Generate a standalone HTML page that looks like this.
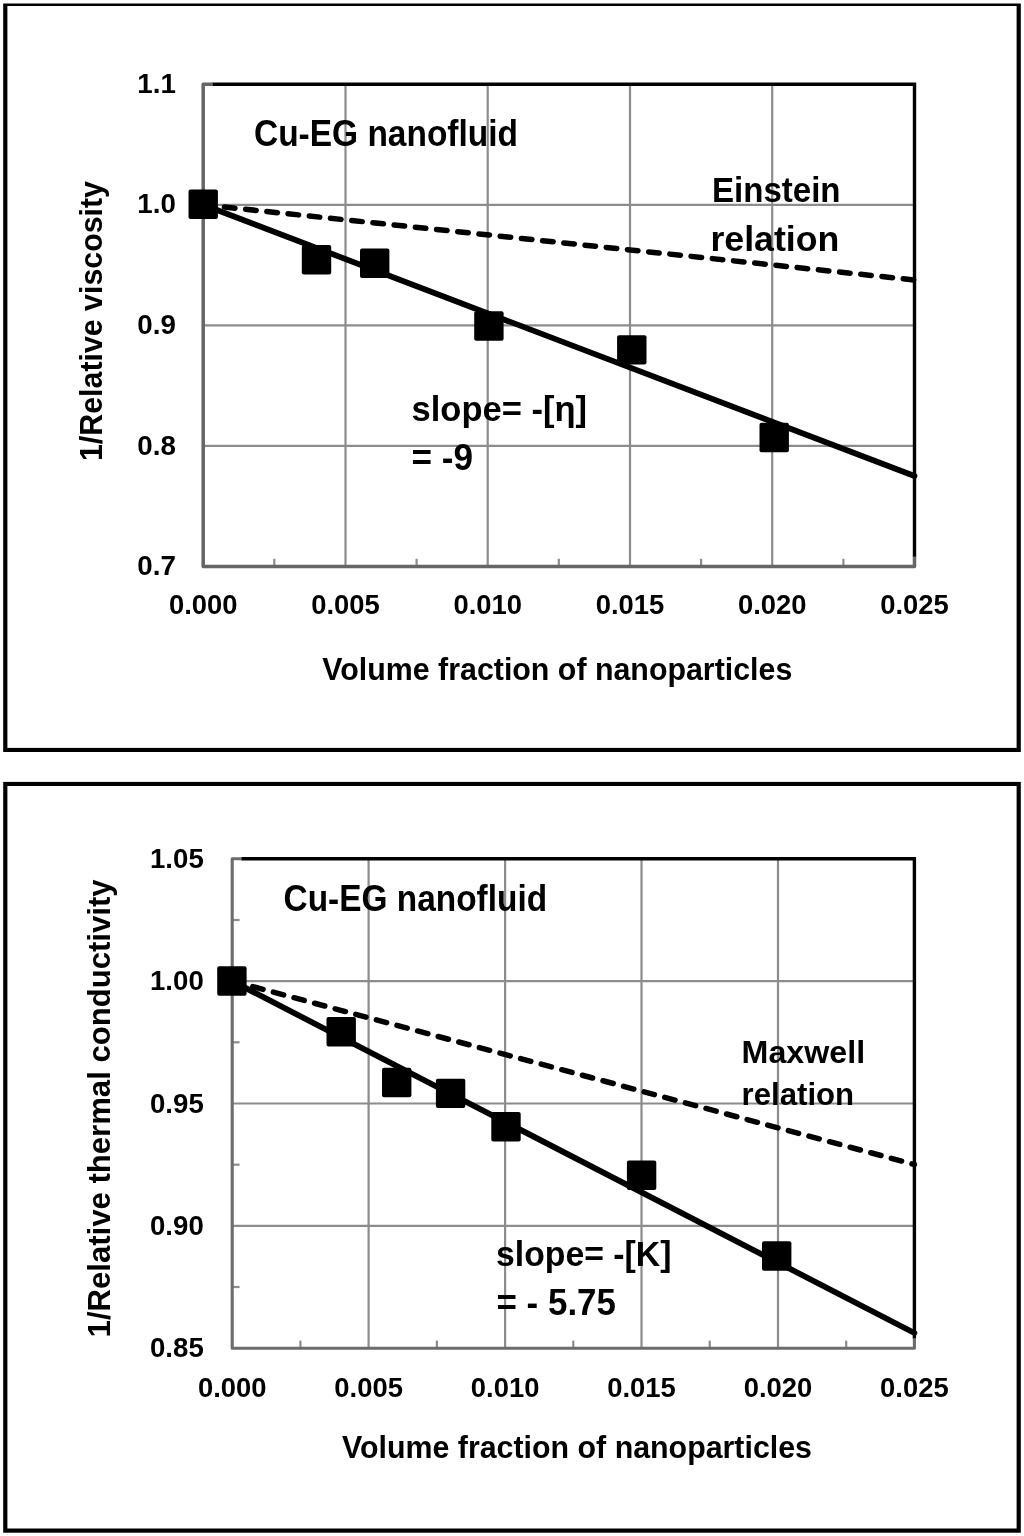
<!DOCTYPE html>
<html lang="en"><head><meta charset="utf-8"><title>Cu-EG nanofluid</title>
<style>html,body{margin:0;padding:0;background:#fff}svg{display:block}text{font-family:'Liberation Sans', 'DejaVu Sans', sans-serif;font-weight:700;fill:#000}</style>
</head><body>
<svg width="1024" height="1536" viewBox="0 0 1024 1536">
<rect width="1024" height="1536" fill="#fff"/>
<rect x="3.2" y="3.5" width="1017.6" height="748.5" fill="#000"/>
<rect x="7.4" y="6.0" width="1009.2" height="741.9" fill="#fff"/>
<line x1="345.5" y1="84.2" x2="345.5" y2="566.4" stroke="#8c8c8c" stroke-width="2.2"/>
<line x1="487.7" y1="84.2" x2="487.7" y2="566.4" stroke="#8c8c8c" stroke-width="2.2"/>
<line x1="630.0" y1="84.2" x2="630.0" y2="566.4" stroke="#8c8c8c" stroke-width="2.2"/>
<line x1="772.2" y1="84.2" x2="772.2" y2="566.4" stroke="#8c8c8c" stroke-width="2.2"/>
<line x1="203.2" y1="204.8" x2="914.5" y2="204.8" stroke="#8c8c8c" stroke-width="2.2"/>
<line x1="203.2" y1="325.3" x2="914.5" y2="325.3" stroke="#8c8c8c" stroke-width="2.2"/>
<line x1="203.2" y1="445.8" x2="914.5" y2="445.8" stroke="#8c8c8c" stroke-width="2.2"/>
<line x1="274.3" y1="558.8" x2="274.3" y2="566.4" stroke="#8c8c8c" stroke-width="2.2"/>
<line x1="416.6" y1="558.8" x2="416.6" y2="566.4" stroke="#8c8c8c" stroke-width="2.2"/>
<line x1="558.8" y1="558.8" x2="558.8" y2="566.4" stroke="#8c8c8c" stroke-width="2.2"/>
<line x1="701.1" y1="558.8" x2="701.1" y2="566.4" stroke="#8c8c8c" stroke-width="2.2"/>
<line x1="843.4" y1="558.8" x2="843.4" y2="566.4" stroke="#8c8c8c" stroke-width="2.2"/>
<polyline points="212.2,84.2 914.5,84.2 914.5,556.9" fill="none" stroke="#000" stroke-width="3.4"/>
<polyline points="212.7,84.2 203.2,84.2 203.2,566.4 914.5,566.4 914.5,556.4" fill="none" stroke="#666666" stroke-width="3.5" stroke-linejoin="round"/>
<line x1="203.2" y1="204.8" x2="914.5" y2="280.0" stroke="#000" stroke-width="5.5" stroke-linecap="round" stroke-dasharray="10.6 10.73"/>
<line x1="203.2" y1="204.8" x2="914.5" y2="476.0" stroke="#000" stroke-width="5.8" stroke-linecap="round"/>
<rect x="188.5" y="189.5" width="29.4" height="29.4" rx="2" fill="#000"/>
<rect x="301.8" y="245.0" width="29.4" height="29.4" rx="2" fill="#000"/>
<rect x="360.0" y="248.5" width="29.4" height="29.4" rx="2" fill="#000"/>
<rect x="474.2" y="311.3" width="29.4" height="29.4" rx="2" fill="#000"/>
<rect x="617.1" y="335.2" width="29.4" height="29.4" rx="2" fill="#000"/>
<rect x="759.5" y="422.8" width="29.4" height="29.4" rx="2" fill="#000"/>
<text x="175.9" y="92.9" font-size="28.0" textLength="38.6" lengthAdjust="spacingAndGlyphs" text-anchor="end">1.1</text>
<text x="175.9" y="213.4" font-size="28.0" textLength="38.6" lengthAdjust="spacingAndGlyphs" text-anchor="end">1.0</text>
<text x="175.9" y="334.0" font-size="28.0" textLength="38.6" lengthAdjust="spacingAndGlyphs" text-anchor="end">0.9</text>
<text x="175.9" y="454.5" font-size="28.0" textLength="38.6" lengthAdjust="spacingAndGlyphs" text-anchor="end">0.8</text>
<text x="175.9" y="575.1" font-size="28.0" textLength="38.6" lengthAdjust="spacingAndGlyphs" text-anchor="end">0.7</text>
<text x="203.2" y="613.9" font-size="27.4" textLength="68.6" lengthAdjust="spacingAndGlyphs" text-anchor="middle">0.000</text>
<text x="345.5" y="613.9" font-size="27.4" textLength="68.6" lengthAdjust="spacingAndGlyphs" text-anchor="middle">0.005</text>
<text x="487.7" y="613.9" font-size="27.4" textLength="68.6" lengthAdjust="spacingAndGlyphs" text-anchor="middle">0.010</text>
<text x="630.0" y="613.9" font-size="27.4" textLength="68.6" lengthAdjust="spacingAndGlyphs" text-anchor="middle">0.015</text>
<text x="772.2" y="613.9" font-size="27.4" textLength="68.6" lengthAdjust="spacingAndGlyphs" text-anchor="middle">0.020</text>
<text x="914.5" y="613.9" font-size="27.4" textLength="68.6" lengthAdjust="spacingAndGlyphs" text-anchor="middle">0.025</text>
<text x="322.3" y="680.0" font-size="30.6" textLength="470" lengthAdjust="spacingAndGlyphs">Volume fraction of nanoparticles</text>
<text x="101.8" y="461" font-size="30.6" textLength="280" lengthAdjust="spacingAndGlyphs" transform="rotate(-90 101.8 461)">1/Relative viscosity</text>
<text x="254.0" y="146.4" font-size="36.3" textLength="264" lengthAdjust="spacingAndGlyphs">Cu-EG nanofluid</text>
<text x="712.0" y="202.2" font-size="35.0" textLength="128.5" lengthAdjust="spacingAndGlyphs">Einstein</text>
<text x="710.4" y="250.5" font-size="35.0" textLength="129" lengthAdjust="spacingAndGlyphs">relation</text>
<text x="411.5" y="421.0" font-size="34.5" textLength="175.5" lengthAdjust="spacingAndGlyphs">slope= -[η]</text>
<text x="411.5" y="470.0" font-size="36.2" textLength="61.5" lengthAdjust="spacingAndGlyphs">= -9</text>
<rect x="3.2" y="781.9" width="1017.6" height="750.8" fill="#000"/>
<rect x="7.4" y="786.0" width="1009.2" height="742.5" fill="#fff"/>
<line x1="368.6" y1="858.8" x2="368.6" y2="1348.2" stroke="#8c8c8c" stroke-width="2.2"/>
<line x1="505.1" y1="858.8" x2="505.1" y2="1348.2" stroke="#8c8c8c" stroke-width="2.2"/>
<line x1="641.5" y1="858.8" x2="641.5" y2="1348.2" stroke="#8c8c8c" stroke-width="2.2"/>
<line x1="778.0" y1="858.8" x2="778.0" y2="1348.2" stroke="#8c8c8c" stroke-width="2.2"/>
<line x1="232.2" y1="981.1" x2="914.4" y2="981.1" stroke="#8c8c8c" stroke-width="2.2"/>
<line x1="232.2" y1="1103.5" x2="914.4" y2="1103.5" stroke="#8c8c8c" stroke-width="2.2"/>
<line x1="232.2" y1="1225.8" x2="914.4" y2="1225.8" stroke="#8c8c8c" stroke-width="2.2"/>
<line x1="300.4" y1="1340.6" x2="300.4" y2="1348.2" stroke="#8c8c8c" stroke-width="2.2"/>
<line x1="436.9" y1="1340.6" x2="436.9" y2="1348.2" stroke="#8c8c8c" stroke-width="2.2"/>
<line x1="573.3" y1="1340.6" x2="573.3" y2="1348.2" stroke="#8c8c8c" stroke-width="2.2"/>
<line x1="709.7" y1="1340.6" x2="709.7" y2="1348.2" stroke="#8c8c8c" stroke-width="2.2"/>
<line x1="846.2" y1="1340.6" x2="846.2" y2="1348.2" stroke="#8c8c8c" stroke-width="2.2"/>
<line x1="232.2" y1="920.0" x2="239.6" y2="920.0" stroke="#8c8c8c" stroke-width="2.2"/>
<line x1="232.2" y1="1042.3" x2="239.6" y2="1042.3" stroke="#8c8c8c" stroke-width="2.2"/>
<line x1="232.2" y1="1164.7" x2="239.6" y2="1164.7" stroke="#8c8c8c" stroke-width="2.2"/>
<line x1="232.2" y1="1287.0" x2="239.6" y2="1287.0" stroke="#8c8c8c" stroke-width="2.2"/>
<polyline points="241.2,858.8 914.4,858.8 914.4,1338.7" fill="none" stroke="#000" stroke-width="3.4"/>
<polyline points="241.7,858.8 232.2,858.8 232.2,1348.2 914.4,1348.2 914.4,1338.2" fill="none" stroke="#6c6c6c" stroke-width="3.1" stroke-linejoin="round"/>
<line x1="232.2" y1="981.1" x2="914.4" y2="1164.5" stroke="#000" stroke-width="5.5" stroke-linecap="round" stroke-dasharray="10.6 10.73"/>
<line x1="232.2" y1="981.1" x2="914.4" y2="1333.0" stroke="#000" stroke-width="5.8" stroke-linecap="round"/>
<rect x="217.2" y="966.3" width="29.4" height="29.4" rx="2" fill="#000"/>
<rect x="326.5" y="1017.0" width="29.4" height="29.4" rx="2" fill="#000"/>
<rect x="382.0" y="1067.8" width="29.4" height="29.4" rx="2" fill="#000"/>
<rect x="435.9" y="1078.7" width="29.4" height="29.4" rx="2" fill="#000"/>
<rect x="491.3" y="1112.1" width="29.4" height="29.4" rx="2" fill="#000"/>
<rect x="626.9" y="1160.5" width="29.4" height="29.4" rx="2" fill="#000"/>
<rect x="762.0" y="1241.3" width="29.4" height="29.4" rx="2" fill="#000"/>
<text x="203.8" y="867.9" font-size="27.4" textLength="53.8" lengthAdjust="spacingAndGlyphs" text-anchor="end">1.05</text>
<text x="203.8" y="990.2" font-size="27.4" textLength="53.8" lengthAdjust="spacingAndGlyphs" text-anchor="end">1.00</text>
<text x="203.8" y="1112.6" font-size="27.4" textLength="53.8" lengthAdjust="spacingAndGlyphs" text-anchor="end">0.95</text>
<text x="203.8" y="1234.9" font-size="27.4" textLength="53.8" lengthAdjust="spacingAndGlyphs" text-anchor="end">0.90</text>
<text x="203.8" y="1357.3" font-size="27.4" textLength="53.8" lengthAdjust="spacingAndGlyphs" text-anchor="end">0.85</text>
<text x="232.2" y="1396.7" font-size="27.4" textLength="68.6" lengthAdjust="spacingAndGlyphs" text-anchor="middle">0.000</text>
<text x="368.6" y="1396.7" font-size="27.4" textLength="68.6" lengthAdjust="spacingAndGlyphs" text-anchor="middle">0.005</text>
<text x="505.1" y="1396.7" font-size="27.4" textLength="68.6" lengthAdjust="spacingAndGlyphs" text-anchor="middle">0.010</text>
<text x="641.5" y="1396.7" font-size="27.4" textLength="68.6" lengthAdjust="spacingAndGlyphs" text-anchor="middle">0.015</text>
<text x="778.0" y="1396.7" font-size="27.4" textLength="68.6" lengthAdjust="spacingAndGlyphs" text-anchor="middle">0.020</text>
<text x="914.4" y="1396.7" font-size="27.4" textLength="68.6" lengthAdjust="spacingAndGlyphs" text-anchor="middle">0.025</text>
<text x="342" y="1458.0" font-size="30.6" textLength="470" lengthAdjust="spacingAndGlyphs">Volume fraction of nanoparticles</text>
<text x="110" y="1337.4" font-size="30.6" textLength="458" lengthAdjust="spacingAndGlyphs" transform="rotate(-90 110 1337.4)">1/Relative thermal conductivity</text>
<text x="283.6" y="911.3" font-size="36.3" textLength="263.5" lengthAdjust="spacingAndGlyphs">Cu-EG nanofluid</text>
<text x="741.6" y="1062.8" font-size="30.8" textLength="123.5" lengthAdjust="spacingAndGlyphs">Maxwell</text>
<text x="741.6" y="1105.2" font-size="30.8" textLength="112.5" lengthAdjust="spacingAndGlyphs">relation</text>
<text x="496.0" y="1265.7" font-size="35.5" textLength="175.5" lengthAdjust="spacingAndGlyphs">slope= -[K]</text>
<text x="496.5" y="1314.5" font-size="36.4" textLength="119.5" lengthAdjust="spacingAndGlyphs">= - 5.75</text>
</svg>
</body></html>
